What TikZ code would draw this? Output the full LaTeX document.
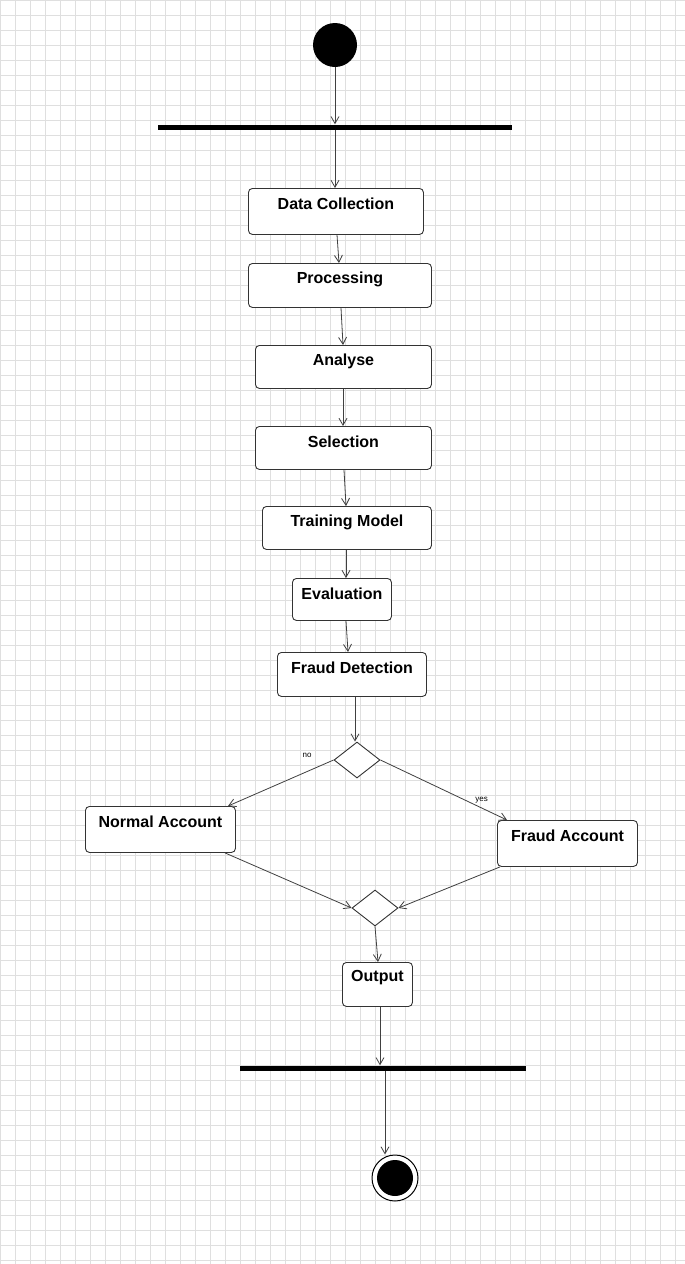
\documentclass[tikz,border=0pt]{standalone}
\usepackage{fontspec}
\setmainfont{Liberation Sans}
\usetikzlibrary{arrows.meta,shapes.geometric}
\begin{document}
\begin{tikzpicture}[x=1pt,y=-1pt,
  box/.style={draw=black!80,line width=0.9pt,rounded corners=4pt,fill=white,inner sep=0pt,anchor=north west},
  lbl/.style={font=\bfseries\fontsize{16}{18}\selectfont,inner sep=0pt},
  arr/.style={draw=black!75,line width=0.8pt,-{Straight Barb[length=7pt,width=8pt]}},
  bar/.style={fill=black,draw=none,inner sep=0pt,minimum height=5pt},
  dia/.style={draw=black!80,line width=0.9pt,fill=white,diamond,inner sep=0pt,minimum width=46pt,minimum height=36pt,aspect=1.2}]
\useasboundingbox (0,0) rectangle (685,1264);
\fill[white] (0,0) rectangle (685,1264);
\draw[gray!25,line width=0.5pt,step=15pt] (0,0) grid (685,1264);
\newcommand{\bx}[6]{\node[box,minimum width=#4-#2,minimum height=#5-#3] (#1) at (#2,#3) {};
  \node[lbl] (#1t) at ([yshift=-16]#1.north) {#6};}
\node[circle,fill=black,minimum size=44pt,inner sep=0pt] (start) at (335,45) {};
\node[bar,minimum width=354pt] (bar1) at (335,127) {};
\bx{dc}{248}{188}{423}{234}{Data Collection}
\bx{pr}{248}{263}{431}{307}{Processing}
\bx{an}{255}{345}{431}{388}{Analyse}
\bx{se}{255}{426}{431}{469}{Selection}
\bx{tm}{262}{506}{431}{549}{Training Model}
\bx{ev}{292}{578}{391}{620}{Evaluation}
\bx{fd}{277}{652}{426}{696}{Fraud Detection}
\node[dia] (d1) at (357,760) {};
\bx{na}{85}{806}{235}{852}{Normal Account}
\bx{fa}{497}{820}{637}{866}{Fraud Account}
\node[dia] (d2) at (375,908) {};
\bx{out}{342}{962}{412}{1006}{Output}
\node[bar,minimum width=286pt] (bar2) at (383,1068) {};
\node[circle,draw=black,line width=1pt,fill=white,minimum size=46pt,inner sep=0pt] (end) at (395,1178) {};
\node[circle,fill=black,minimum size=36pt,inner sep=0pt] (endi) at (395,1178) {};
\draw[arr] (start.south) -- (bar1.north -| start.south);
\draw[arr] (bar1.south -| 335,0) -- (dc.north -| 335,0);
\draw[arr] (dc.south -| 337,0) -- (pr.north -| 339,0);
\draw[arr] (pr.south -| 341,0) -- (an.north -| 343,0);
\draw[arr] (an.south -| 343,0) -- (se.north -| 343,0);
\draw[arr] (se.south -| 344,0) -- (tm.north -| 346,0);
\draw[arr] (tm.south -| 346,0) -- (ev.north -| 346,0);
\draw[arr] (ev.south -| 346,0) -- (fd.north -| 348,0);
\draw[arr] (fd.south -| 355,0) -- (d1.north -| 355,0);
\draw[arr] (d1.west) -- (na.north -| 228,0) node[pos=0.25,above=10pt,font=\fontsize{8}{9}\selectfont] (no) {no};
\draw[arr] (d1.east) -- (fa.north -| 507,0) node[pos=0.8,above=1pt,font=\fontsize{8}{9}\selectfont] (yes) {yes};
\draw[arr] (na.south -| 225,0) -- (d2.west);
\draw[arr] (fa.south -| 500,0) -- (d2.east);
\draw[arr] (d2.south) -- (out.north -| 378,0);
\draw[arr] (out.south -| 380,0) -- (bar2.north -| 380,0);
\draw[arr] (bar2.south -| 385,0) -- (end.north -| 385,0);
\end{tikzpicture}
\end{document}
